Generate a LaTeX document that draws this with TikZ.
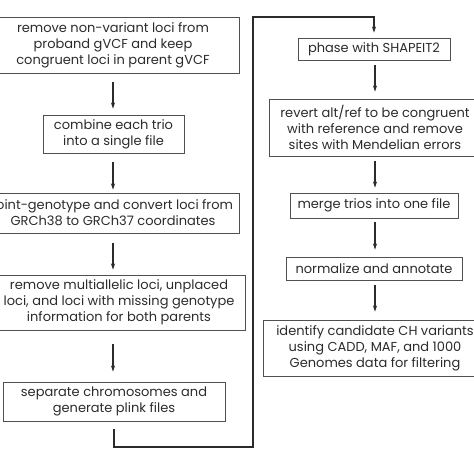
\documentclass[tikz,border=0pt]{standalone}
\usepackage{fontspec}
\setmainfont{Poppins}
\usepackage{xcolor}
\usetikzlibrary{arrows.meta, positioning, calc}

\definecolor{inkgray}{HTML}{2B2B2B}
\definecolor{boxgray}{HTML}{505050}

\begin{document}
\begin{tikzpicture}[
    x=1pt,
    y=1pt,
    stage/.style={rectangle, draw=boxgray, line width=0.9pt, align=center,
                  inner sep=1pt, text=inkgray, font=\fontsize{13}{16}\selectfont},
    arrow/.style={-{Stealth[length=6pt, width=4pt]}, line width=1.1pt, color=inkgray},
    link/.style={-{Stealth[length=6pt, width=4pt]}, line width=1.6pt, color=inkgray},
]
\clip (0,0) rectangle (474,474);
\useasboundingbox (0,0) rectangle (474,474);

% left column
\node[stage, minimum width=252, minimum height=56] (trim)  at (113,429)   {remove non-variant loci from\\proband gVCF and keep\\congruent loci in parent gVCF};
\node[stage, minimum width=141, minimum height=38] (comb)  at (113.5,340) {combine each trio\\into a single file};
\node[stage, minimum width=252, minimum height=40] (joint) at (113,261)   {joint-genotype and convert loci from\\GRCh38 to GRCh37 coordinates};
\node[stage, minimum width=252, minimum height=55] (filt)  at (119,171.5) {remove multiallelic loci, unplaced\\loci, and loci with missing genotype\\information for both parents};
\node[stage, minimum width=222, minimum height=39] (sep)   at (114,72.5)  {separate chromosomes and\\generate plink files};

% right column
\node[stage, minimum width=152, minimum height=22] (phase) at (374,425)   {phase with SHAPEIT2};
\node[stage, minimum width=212, minimum height=57] (rev)   at (375,346.5) {revert alt/ref to be congruent\\with reference and remove\\sites with Mendelian errors};
\node[stage, minimum width=168, minimum height=25] (merge) at (374,268.5) {merge trios into one file};
\node[stage, minimum width=176, minimum height=23] (norm)  at (374,205.5) {normalize and annotate};
\node[stage, minimum width=224, minimum height=56] (ident) at (375,126)   {identify candidate CH variants\\using CADD, MAF, and 1000\\Genomes data for filtering};

\coordinate (rise) at (253,27);
\coordinate (top)  at (253,457);

\draw[arrow, shorten <=9pt, shorten >=6pt]   (trim.south)  -- (trim.south |- comb.north);
\draw[arrow, shorten <=9pt, shorten >=3pt]   (trim.south |- comb.south) -- (trim.south |- joint.north);
\draw[arrow, shorten <=10pt, shorten >=5pt]  (joint.south) -- (joint.south |- filt.north);
\draw[arrow, shorten <=14pt, shorten >=10pt] (joint.south |- filt.south) -- (joint.south |- sep.north);
\draw[link] ([yshift=-8pt]sep.south) |- (rise) -- (top) -| ([yshift=5pt]phase.north);
\draw[arrow, shorten <=5pt, shorten >=7pt]  (rev.north |- phase.south) -- (rev.north);
\draw[arrow, shorten <=5pt, shorten >=5pt]  (rev.south) -- (rev.south |- merge.north);
\draw[arrow, shorten <=4pt, shorten >=7pt]  (rev.south |- merge.south) -- (rev.south |- norm.north);
\draw[arrow, shorten <=5pt, shorten >=8pt]  (rev.south |- norm.south) -- (ident.north);
\end{tikzpicture}
\end{document}
